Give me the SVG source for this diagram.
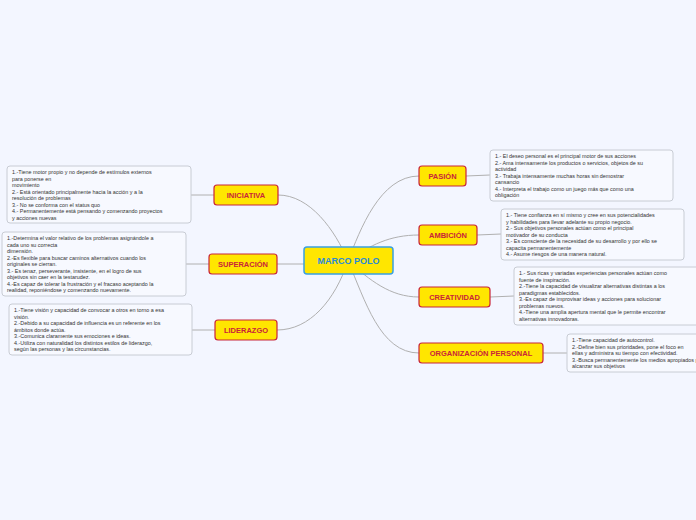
<svg xmlns="http://www.w3.org/2000/svg" width="696" height="520" viewBox="0 0 696 520">
<style>
.n rect{fill:#ffe600;stroke:#c8243a;stroke-width:1.2}
.n text{font-family:"Liberation Sans",sans-serif;font-weight:bold;font-size:7.5px;fill:#c8243a;text-anchor:middle}
.c rect{fill:#ffe600;stroke:#3aa0e0;stroke-width:1.5}
.c text{font-family:"Liberation Sans",sans-serif;font-weight:bold;font-size:9px;fill:#2a8ad8;text-anchor:middle}
.t rect{fill:#f7f9ff;stroke:#c8ccd4;stroke-width:1}
.t text{font-family:"Liberation Sans",sans-serif;font-size:5.4px;fill:#333}
#edges path{fill:none;stroke:#b0b0b0;stroke-width:1}
</style>
<rect width="696" height="520" fill="#f3f6ff"/>
<g id="edges">
<path d="M348 261 C360 230,380 176,419 176"/>
<path d="M348 261 C370 245,390 235,419 235"/>
<path d="M348 261 C370 280,390 297,419 297"/>
<path d="M348 261 C365 300,380 353,419 353"/>
<path d="M348 261 C335 230,310 195,278 195"/>
<path d="M304 264 L277 264"/>
<path d="M348 261 C335 300,310 330,277 330"/>
<path d="M466 176 L490 175"/><path d="M477 235 L501 234"/><path d="M490 297 L514 296"/><path d="M543 353 L567 353"/>
<path d="M214 195 L190 195"/><path d="M209 264 L185 264"/><path d="M215 330 L191 330"/>
</g>
<g id="center" class="c"><rect x="304" y="247" width="89" height="27" rx="3"/><text x="348.5" y="264">MARCO POLO</text></g>
<g id="pasion" class="n"><rect x="419" y="166" width="47" height="20" rx="3"/><text x="442.5" y="179">PASIÓN</text></g>
<g id="ambicion" class="n"><rect x="419" y="225" width="58" height="20" rx="3"/><text x="448" y="238">AMBICIÓN</text></g>
<g id="creatividad" class="n"><rect x="419" y="287" width="71" height="20" rx="3"/><text x="454.5" y="300">CREATIVIDAD</text></g>
<g id="organizacion" class="n"><rect x="419" y="343" width="124" height="20" rx="3"/><text x="481" y="356">ORGANIZACIÓN PERSONAL</text></g>
<g id="iniciativa" class="n"><rect x="214" y="185" width="64" height="20" rx="3"/><text x="246" y="198">INICIATIVA</text></g>
<g id="superacion" class="n"><rect x="209" y="254" width="68" height="20" rx="3"/><text x="243" y="267">SUPERACIÓN</text></g>
<g id="liderazgo" class="n"><rect x="215" y="320" width="62" height="20" rx="3"/><text x="246" y="333">LIDERAZGO</text></g>
<g id="t-pasion" class="t"><rect x="490" y="150" width="183" height="51" rx="3"/>
<text x="495" y="158">1.- El deseo personal es el principal motor de sus acciones</text>
<text x="495" y="164.5">2.- Ama intensamente los productos o servicios, objetos de su</text>
<text x="495" y="171">actividad</text>
<text x="495" y="177.5">3.- Trabaja intensamente muchas horas sin demostrar</text>
<text x="495" y="184">cansancio</text>
<text x="495" y="190.5">4.- Interpreta el trabajo como un juego más que como una</text>
<text x="495" y="197">obligación</text></g>
<g id="t-ambicion" class="t"><rect x="501" y="209" width="183" height="51" rx="3"/>
<text x="506" y="217">1.- Tiene confianza en sí mismo y cree en sus potencialidades</text>
<text x="506" y="223.5">y habilidades para llevar adelante su propio negocio.</text>
<text x="506" y="230">2.- Sus objetivos personales actúan como el principal</text>
<text x="506" y="236.5">motivador de su conducta</text>
<text x="506" y="243">3.- Es consciente de la necesidad de su desarrollo y por ello se</text>
<text x="506" y="249.5">capacita permanentemente</text>
<text x="506" y="256">4.- Asume riesgos de una manera natural.</text></g>
<g id="t-creatividad" class="t"><rect x="514" y="267" width="186" height="58" rx="3"/>
<text x="519" y="275">1.- Sus ricas y variadas experiencias personales actúan como</text>
<text x="519" y="281.5">fuente de inspiración.</text>
<text x="519" y="288">2.-Tiene la capacidad de visualizar alternativas distintas a los</text>
<text x="519" y="294.5">paradigmas establecidos.</text>
<text x="519" y="301">3.-Es capaz de improvisar ideas y acciones para solucionar</text>
<text x="519" y="307.5">problemas nuevos.</text>
<text x="519" y="314">4.-Tiene una amplia apertura mental que le permite encontrar</text>
<text x="519" y="320.5">alternativas innovadoras.</text></g>
<g id="t-organizacion" class="t"><rect x="567" y="334" width="140" height="38" rx="3"/>
<text x="572" y="342">1.-Tiene capacidad de autocontrol.</text>
<text x="572" y="348.5">2.-Define bien sus prioridades, pone el foco en</text>
<text x="572" y="355">ellas y administra su tiempo con efectividad.</text>
<text x="572" y="361.5">3.-Busca permanentemente los medios apropiados para</text>
<text x="572" y="368">alcanzar sus objetivos</text></g>
<g id="t-iniciativa" class="t"><rect x="7" y="166" width="184" height="57" rx="3"/>
<text x="12" y="174">1.-Tiene motor propio y no depende de estímulos externos</text>
<text x="12" y="180.5">para ponerse en</text>
<text x="12" y="187">movimiento</text>
<text x="12" y="193.5">2.- Está orientado principalmente hacia la acción y a la</text>
<text x="12" y="200">resolución de problemas</text>
<text x="12" y="206.5">3.- No se conforma con el status quo</text>
<text x="12" y="213">4.- Permanentemente está pensando y comenzando proyectos</text>
<text x="12" y="219.5">y acciones nuevas</text></g>
<g id="t-superacion" class="t"><rect x="2" y="232" width="184" height="64" rx="3"/>
<text x="7" y="240">1.-Determina el valor relativo de los problemas asignándole a</text>
<text x="7" y="246.5">cada uno su correcta</text>
<text x="7" y="253">dimensión.</text>
<text x="7" y="259.5">2.-Es flexible para buscar caminos alternativos cuando los</text>
<text x="7" y="266">originales se cierran.</text>
<text x="7" y="272.5">3.- Es tenaz, perseverante, insistente, en el logro de sus</text>
<text x="7" y="279">objetivos sin caer en la testarudez.</text>
<text x="7" y="285.5">4.-Es capaz de tolerar la frustración y el fracaso aceptando la</text>
<text x="7" y="292">realidad, reponiéndose y comenzando nuevamente.</text></g>
<g id="t-liderazgo" class="t"><rect x="9" y="304" width="183" height="51" rx="3"/>
<text x="14" y="312">1.-Tiene visión y capacidad de convocar a otros en torno a esa</text>
<text x="14" y="318.5">visión.</text>
<text x="14" y="325">2.-Debido a su capacidad de influencia es un referente en los</text>
<text x="14" y="331.5">ámbitos donde actúa.</text>
<text x="14" y="338">3.-Comunica claramente sus emociones e ideas.</text>
<text x="14" y="344.5">4.-Utiliza con naturalidad los distintos estilos de liderazgo,</text>
<text x="14" y="351">según las personas y las circunstancias.</text></g>
</svg>
